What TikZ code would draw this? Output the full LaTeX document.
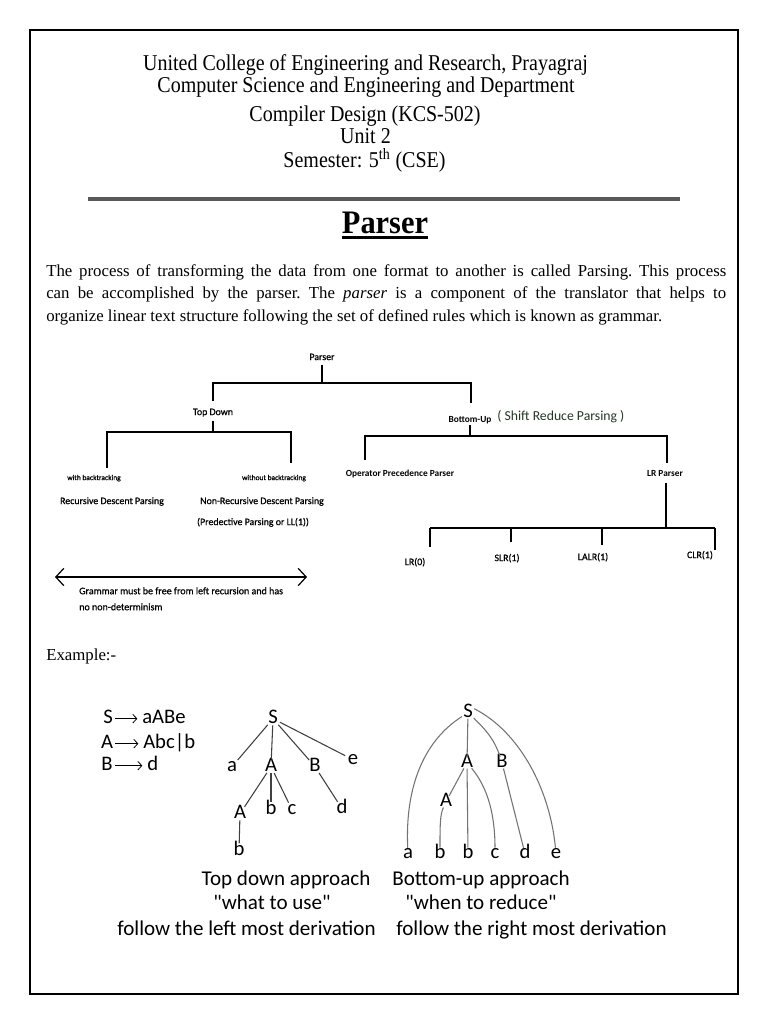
\documentclass[tikz,border=0pt]{standalone}
\usepackage{fontspec}
\usepackage{graphicx}
\setmainfont{Liberation Serif}
\newfontfamily\calfont{Carlito}
\newfontfamily\calsemi[FakeBold=0.8]{Carlito}
\usetikzlibrary{arrows.meta}
\newcommand{\vstretch}[1]{\scalebox{1}[1.13]{#1}}
\definecolor{srgreen}{RGB}{35,55,35}
\tikzset{
  hdr/.style={font=\fontsize{15}{16}\selectfont, inner sep=0pt, anchor=base},
  lbl/.style={font=\calsemi\fontsize{7.4}{8}\selectfont, inner sep=0pt, text height=0.68em, text depth=0.22em},
  lblb/.style={font=\calfont\bfseries\fontsize{7}{8}\selectfont, inner sep=0pt, text height=0.68em, text depth=0.22em},
  tiny/.style={font=\calsemi\fontsize{5.6}{6}\selectfont, inner sep=0pt, text height=0.68em, text depth=0.22em},
  big/.style={font=\calfont\fontsize{15.5}{17}\selectfont, inner sep=0pt, anchor=base, text height=0.65em, text depth=0pt},
  captxt/.style={font=\calfont\fontsize{15.8}{17}\selectfont, inner sep=0pt, anchor=base},
  branch/.style={line width=2pt},
  edgeA/.style={line width=0.8pt, draw=black!75, shorten <=1.5pt, shorten >=2pt},
  edgeB/.style={line width=0.8pt, draw=black!55, shorten <=1pt, shorten >=1pt},
  gar/.style={line width=0.6pt, -{Straight Barb[length=3pt,width=6.5pt]}, shorten <=1.5pt, shorten >=3.5pt},
}
\begin{document}
\begin{tikzpicture}[x=0.75pt,y=-0.75pt]
\useasboundingbox (0,0) rectangle (768,1024);
\fill[white] (0,0) rectangle (768,1024);
\draw[line width=0.8pt] (30,30) rectangle (738,994);

% header
\node[hdr] (h1) at (365.5,71) {\vstretch{United College of Engineering and Research, Prayagraj}};
\node[hdr] (h2) at (366,93) {\vstretch{Computer Science and Engineering and Department}};
\node[hdr] (h3) at (365,121) {\vstretch{Compiler Design (KCS-502)}};
\node[hdr] (h4) at (365.5,143) {\vstretch{Unit 2}};
\node[hdr] (h5) at (364.5,167) {\vstretch{Semester: 5\textsuperscript{th} (CSE)}};
\draw[line width=2.4pt, black!65] (88,199) -- (680,199);
\node[anchor=base, inner sep=0pt, font=\bfseries\fontsize{22.8}{24}\selectfont] (title) at (385,233) {\scalebox{1}[1.08]{Parser}};
\draw[line width=1.7pt] (title.base west) ++(0,4.5) coordinate (ul1) -- (ul1 -| title.base east);

\node[anchor=north west, inner sep=0pt, text width=510pt, align=justify,
      font=\fontsize{12.6}{17}\selectfont] (para) at (46,264)
{\frenchspacing The process of transforming the data from one format to another is called Parsing. This process\linebreak
can be accomplished by the parser. The \textit{parser} is a component of the translator that helps to\linebreak
organize linear text structure following the set of defined rules which is known as grammar.};

% parser tree
\node[lbl] (parser) at (322,357) {Parser};
\node[lbl] (td) at (213,412) {Top Down};
\node[lblb] (bu) at (470,419) {Bottom-Up};
\node[font=\calfont\fontsize{10.3}{11}\selectfont, inner sep=0pt, text=srgreen, anchor=west] (sr) at (497,417) {( Shift Reduce Parsing )};
\coordinate (p1) at (322,365);
\coordinate (p2) at (322,383);
\coordinate (pl) at (213,383);
\coordinate (pr) at (471,383);
\coordinate (tdl) at (213,401);
\coordinate (bul) at (471,403);
\draw[branch] (p1) -- (p2);
\draw[branch] (tdl) -- (pl) -- (pr) -- (bul);

\coordinate (t1) at (213,421);
\coordinate (t2) at (213,432);
\coordinate (tl) at (107,432);
\coordinate (tr) at (291,432);
\coordinate (tl2) at (107,468);
\coordinate (tr2) at (291,463);
\draw[branch] (t1) -- (t2);
\draw[branch] (tl2) -- (tl) -- (tr) -- (tr2);

\node[tiny] (wb) at (94,477) {with backtracking};
\node[lbl] (rdp) at (112,501) {Recursive Descent Parsing};
\node[tiny] (wob) at (274,477) {without backtracking};
\node[lbl] (nrdp) at (262,501) {Non-Recursive Descent Parsing};
\node[lbl] (pp) at (253,522) {(Predective Parsing or LL(1))};

\coordinate (b1) at (470,425);
\coordinate (b2) at (470,436);
\coordinate (bl) at (365,436);
\coordinate (br) at (667,436);
\coordinate (bl2) at (365,460);
\coordinate (br2) at (667,463);
\draw[branch] (b1) -- (b2);
\draw[branch] (bl2) -- (bl) -- (br) -- (br2);

\node[lblb] (opp) at (400,473) {Operator Precedence Parser};
\node[lblb] (lrp) at (665,473) {LR Parser};

\coordinate (l1) at (666,483);
\coordinate (l2) at (666,528);
\coordinate (ll) at (430,528);
\coordinate (lr) at (715,528);
\draw[branch] (l1) -- (l2);
\draw[branch] (ll) -- (lr);
\coordinate (c0) at (430,547);
\coordinate (c1a) at (511,528); \coordinate (c1) at (511,542);
\coordinate (c2a) at (602,528); \coordinate (c2) at (602,545);
\coordinate (c3) at (715,550);
\draw[branch] (ll) -- (c0);
\draw[branch] (c1a) -- (c1);
\draw[branch] (c2a) -- (c2);
\draw[branch] (lr) -- (c3);

\node[lbl] (lr0) at (415,562) {LR(0)};
\node[lbl] (slr) at (507,558) {SLR(1)};
\node[lbl] (lalr) at (593,557) {LALR(1)};
\node[lbl] (clr) at (700,555) {CLR(1)};

% grammar arrow
\coordinate (ga) at (55,577);
\coordinate (gb) at (307,577);
\draw[line width=0.9pt, {Straight Barb[length=6pt,width=13pt]}-{Straight Barb[length=6pt,width=13pt]}] (ga) -- (gb);
\node[anchor=north west, inner sep=0pt, font=\calsemi\fontsize{7.5}{12}\selectfont, align=left] (gtxt) at (79,587)
{Grammar must be free from left recursion and has\\ no non-determinism};

\node[anchor=west, inner sep=0pt, font=\fontsize{12.6}{14}\selectfont] (ex) at (46,656) {Example:-};

% grammar
\node[big] (gS) at (108,723) {S};
\node[big, anchor=base west] (gR1) at (142,723) {aABe};
\node[big] (gA) at (107,748) {A};
\node[big, anchor=base west] (gR2) at (143,748) {Abc|b};
\node[big] (gB) at (107,770) {B};
\node[big, anchor=base west] (gR3) at (147,770) {d};
\draw[gar] (gS.east) -- (gR1.west);
\draw[gar] (gA.east) -- (gR2.west);
\draw[gar] (gB.east) -- (gR3.west);

% tree 1
\node[big] (s) at (273,723) {S};
\node[big] (a1) at (232,771) {a};
\node[big] (A1) at (271,771) {A};
\node[big] (B1) at (315,771) {B};
\node[big] (e1) at (353,764) {e};
\node[big] (A2) at (240,818) {A};
\node[big] (b1) at (271,814) {b};
\node[big] (c1n) at (292,814) {c};
\node[big] (d1) at (342,813) {d};
\node[big] (b2) at (239,855) {b};
\draw[edgeA] (s) -- (a1);
\draw[edgeA] (s) -- (A1);
\draw[edgeA] (s) -- (B1);
\draw[edgeA] (s) -- (e1);
\draw[edgeA] (A1) -- (A2);
\draw[edgeA] (A1) -- (b1);
\draw[edgeA] (A1) -- (c1n);
\draw[edgeA] (B1) -- (d1);
\draw[edgeA] (A2) -- (b2);

% tree 2
\node[big] (S2) at (468,717) {S};
\node[big] (A3) at (467,767) {A};
\node[big] (B2) at (502,767) {B};
\node[big] (A4) at (446,806) {A};
\node[big] (la) at (408,858) {a};
\node[big] (lb1) at (440,858) {b};
\node[big] (lb2) at (468,858) {b};
\node[big] (lc) at (495,858) {c};
\node[big] (ld) at (525,858) {d};
\node[big] (le) at (556,858) {e};
\draw[edgeB] (S2) .. controls (422,742) and (405,790) .. (la);
\draw[edgeB] (S2) -- (A3);
\draw[edgeB] (S2) .. controls (484,728) and (494,738) .. (B2);
\draw[edgeB] (S2.north east) .. controls (520,732) and (550,790) .. (le);
\draw[edgeB] (A3) -- (A4);
\draw[edgeB] (A3) -- (lb2);
\draw[edgeB] (A3) .. controls (488,788) and (495,815) .. (lc);
\draw[edgeB] (A4) .. controls (440,815) and (440,825) .. (lb1);
\draw[edgeB] (B2) -- (ld);

% captions
\node[captxt] (cap1) at (286,885) {Top down approach};
\node[captxt] (cap2) at (481,885) {Bottom-up approach};
\node[captxt] (cap3) at (272,909) {"what to use"};
\node[captxt] (cap4) at (481,909) {"when to reduce"};
\node[captxt] (cap5) at (246.5,935) {follow the left most derivation};
\node[captxt] (cap6) at (531.5,935) {follow the right most derivation};
\end{tikzpicture}
\end{document}
